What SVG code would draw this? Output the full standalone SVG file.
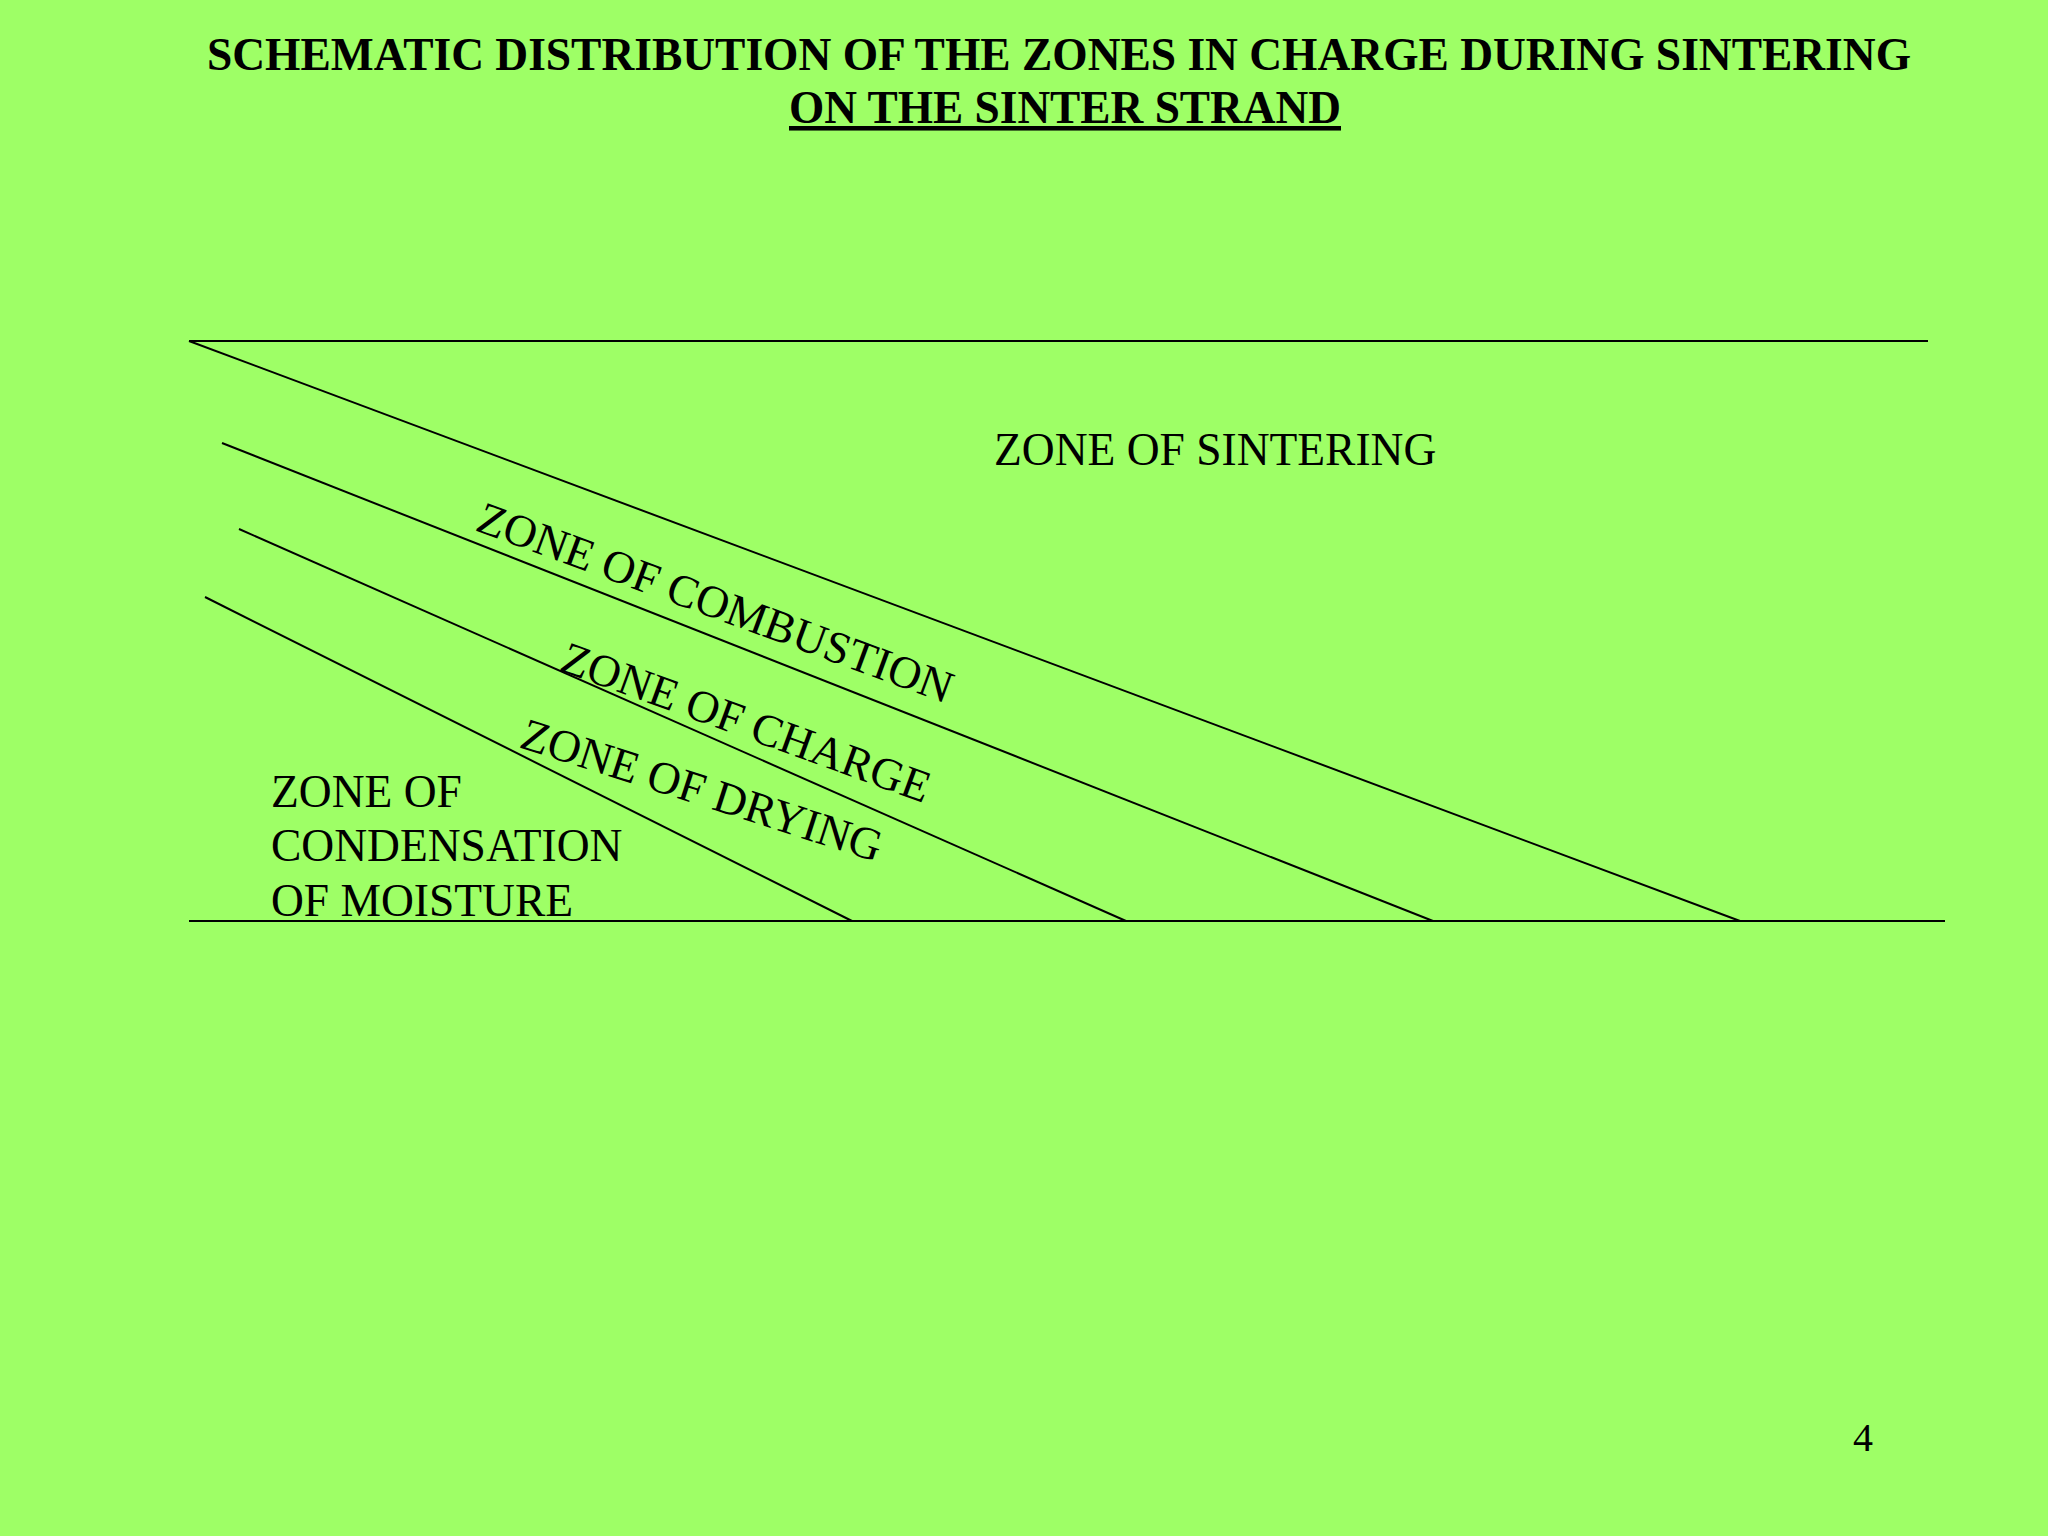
<svg xmlns="http://www.w3.org/2000/svg" width="2048" height="1536" viewBox="0 0 2048 1536">
<style>
.bg{fill:#9EFF66}
.ln{stroke:#000;stroke-width:2;fill:none;stroke-linecap:butt}
.t{font-family:"Liberation Serif","Times New Roman",serif;font-size:45.5px;fill:#000}
.tb{font-family:"Liberation Serif","Times New Roman",serif;font-size:45.5px;font-weight:bold;fill:#000}
.pg{font-family:"Liberation Serif","Times New Roman",serif;font-size:40px;fill:#000}
</style>
<rect class="bg" x="0" y="0" width="2048" height="1536"/>
<g id="title">
<text class="tb" x="207" y="70" textLength="1704" lengthAdjust="spacingAndGlyphs">SCHEMATIC DISTRIBUTION OF THE ZONES IN CHARGE DURING SINTERING</text>
<text class="tb" x="789" y="123" textLength="552" lengthAdjust="spacingAndGlyphs" text-decoration="underline">ON THE SINTER STRAND</text>
</g>
<g id="connectors">
<line class="ln" x1="189" y1="341" x2="1928" y2="341"/>
<line class="ln" x1="189" y1="921" x2="1945" y2="921"/>
<line class="ln" x1="189" y1="341" x2="1740" y2="921"/>
<line class="ln" x1="222" y1="443" x2="1433" y2="921"/>
<line class="ln" x1="239" y1="529" x2="1126" y2="921"/>
<line class="ln" x1="205" y1="597" x2="852" y2="921"/>
</g>
<g id="zone-sintering">
<text class="t" x="994" y="465">ZONE OF SINTERING</text>
</g>
<g id="zone-combustion">
<text class="t" transform="translate(474,530) rotate(20.2)" x="0" y="0">ZONE OF COMBUSTION</text>
</g>
<g id="zone-charge">
<text class="t" transform="translate(558,670) rotate(20)" x="0" y="0">ZONE OF CHARGE</text>
</g>
<g id="zone-drying">
<text class="t" transform="translate(518,747) rotate(17.8)" x="0" y="0">ZONE OF DRYING</text>
</g>
<g id="zone-condensation">
<text class="t" x="271" y="807">ZONE OF</text>
<text class="t" x="271" y="861">CONDENSATION</text>
<text class="t" x="271" y="916">OF MOISTURE</text>
</g>
<g id="page-number">
<text class="pg" x="1863" y="1451" text-anchor="middle">4</text>
</g>
</svg>
